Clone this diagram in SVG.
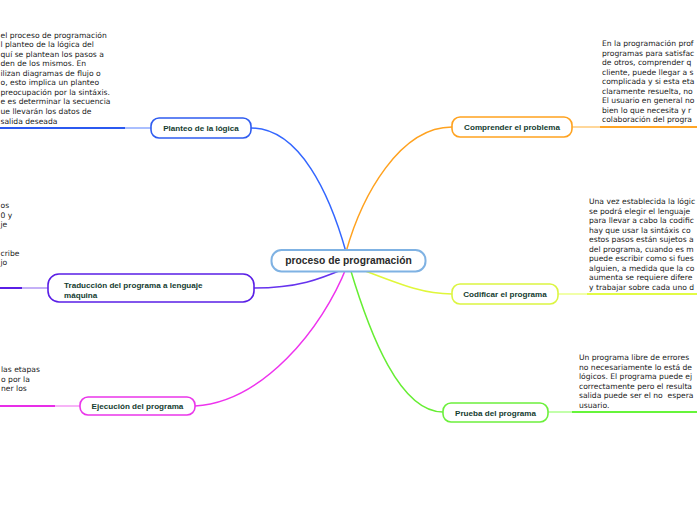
<svg xmlns="http://www.w3.org/2000/svg" width="697" height="520" viewBox="0 0 697 520">
<style>
.body{font-family:"DejaVu Sans",Verdana,sans-serif;font-size:7.6px;fill:#1a1a1a}
.lbl{font-family:"Liberation Sans",Arial,sans-serif;font-size:8.1px;font-weight:bold;fill:#143c30}
.ctr{font-family:"Liberation Sans",Arial,sans-serif;font-size:10.3px;font-weight:bold;fill:#2a2a2a}
.node{fill:#ffffff;stroke-width:1.6}
.c{fill:none;stroke-width:1.5}
.u{fill:none;stroke-width:2}
</style>
<rect width="697" height="520" fill="#ffffff"/>
<g id="connectors">
<path class="c" d="M251 128 C300 128 330 195 346 252" stroke="#3366ff"/>
<path class="c" d="M452 127 C400 127 362 195 346 252" stroke="#ffa21f"/>
<path class="c" d="M352 266 C395 282 420 294 452 294" stroke="#e0f73a"/>
<path class="c" d="M350 268 C370 335 400 412 443 412" stroke="#66ee33"/>
<path class="c" d="M254 288 C300 288 322 278 346 268" stroke="#6633ee"/>
<path class="c" d="M195 406 C262 402 322 330 347 266" stroke="#ee33ee"/>
<path class="u" d="M125 128 H151" stroke="#aabfff"/>
<path class="u" d="M0 128 H125" stroke="#2b59f0"/>
<path class="u" d="M572 127 H600" stroke="#ffd79a"/>
<path class="u" d="M600 127 H697" stroke="#ffa526"/>
<path class="u" d="M558 294 H587" stroke="#f1ffa8"/>
<path class="u" d="M587 294 H697" stroke="#e2fb45"/>
<path class="u" d="M548 412 H572" stroke="#c2ffaa"/>
<path class="u" d="M572 412 H697" stroke="#66f53a"/>
<path class="u" d="M22 288 H48" stroke="#c4b0f7"/>
<path class="u" d="M0 288 H22" stroke="#5a1fe6"/>
<path class="u" d="M55 406 H80" stroke="#f7b3f7"/>
<path class="u" d="M0 406 H55" stroke="#e82ee8"/>
</g>
<g id="center">
<rect x="271.5" y="250" width="154" height="21.5" rx="10" fill="#ffffff" stroke="#7fb2e3" stroke-width="2"/>
<text class="ctr" x="348.5" y="264.3" text-anchor="middle">proceso de programación</text>
</g>
<g id="planteo">
<rect class="node" x="151" y="118" width="100" height="20" rx="8" stroke="#2f5cf0"/>
<text class="lbl" x="201" y="131" text-anchor="middle">Planteo de la lógica</text>
</g>
<g id="comprender">
<rect class="node" x="452" y="117" width="120" height="20" rx="8" stroke="#ffa21f"/>
<text class="lbl" x="512" y="130" text-anchor="middle">Comprender el problema</text>
</g>
<g id="codificar">
<rect class="node" x="452" y="284" width="106" height="20" rx="8" stroke="#dcf542"/>
<text class="lbl" x="505" y="297" text-anchor="middle">Codificar el programa</text>
</g>
<g id="prueba">
<rect class="node" x="443" y="403" width="105" height="19" rx="8" stroke="#6cf03c"/>
<text class="lbl" x="495.5" y="415.5" text-anchor="middle">Prueba del programa</text>
</g>
<g id="traduccion">
<rect class="node" x="48" y="274" width="206" height="28" rx="11" stroke="#5a1fe6"/>
<text class="lbl" x="64" y="288">Traducción del programa a lenguaje</text>
<text class="lbl" x="64" y="297.5">máquina</text>
</g>
<g id="ejecucion">
<rect class="node" x="80" y="397" width="115" height="18" rx="8" stroke="#ea36ea"/>
<text class="lbl" x="137.5" y="409" text-anchor="middle">Ejecución del programa</text>
</g>
<g id="text-planteo">
<text class="body" x="0.5" y="37.5">el proceso de programación</text>
<text class="body" x="0.5" y="47">l planteo de la lógica del</text>
<text class="body" x="0.5" y="56.6">quí se plantean los pasos a</text>
<text class="body" x="0.5" y="66.2">den de los mismos. En</text>
<text class="body" x="0.5" y="75.7">ilizan diagramas de flujo o</text>
<text class="body" x="0.5" y="85.3">o, esto implica un planteo</text>
<text class="body" x="0.5" y="94.8">preocupación por la sintáxis.</text>
<text class="body" x="0.5" y="104.4">e es determinar la secuencia</text>
<text class="body" x="0.5" y="113.9">ue llevarán los datos de</text>
<text class="body" x="0.5" y="123.5">salida deseada</text>
</g>
<g id="text-comprender">
<text class="body" x="602" y="46">En la programación prof</text>
<text class="body" x="602" y="55.5">programas para satisfac</text>
<text class="body" x="602" y="65">de otros, comprender q</text>
<text class="body" x="602" y="74.5">cliente, puede llegar a s</text>
<text class="body" x="602" y="84">complicada y si esta eta</text>
<text class="body" x="602" y="93.5">claramente resuelta, no</text>
<text class="body" x="602" y="103">El usuario en general no</text>
<text class="body" x="602" y="112.5">bien lo que necesita y r</text>
<text class="body" x="602" y="122">colaboración del progra</text>
</g>
<g id="text-codificar">
<text class="body" x="589" y="204">Una vez establecida la lógic</text>
<text class="body" x="589" y="213.5">se podrá elegir el lenguaje</text>
<text class="body" x="589" y="223">para llevar a cabo la codific</text>
<text class="body" x="589" y="232.5">hay que usar la sintáxis co</text>
<text class="body" x="589" y="242">estos pasos están sujetos a</text>
<text class="body" x="589" y="251.5">del programa, cuando es m</text>
<text class="body" x="589" y="261">puede escribir como si fues</text>
<text class="body" x="589" y="270.5">alguien, a medida que la co</text>
<text class="body" x="589" y="280">aumenta se requiere difere</text>
<text class="body" x="589" y="289.5">y trabajar sobre cada uno d</text>
</g>
<g id="text-prueba">
<text class="body" x="579" y="360">Un programa libre de errores</text>
<text class="body" x="579" y="369.6">no necesariamente lo está de</text>
<text class="body" x="579" y="379.2">lógicos. El programa puede ej</text>
<text class="body" x="579" y="388.8">correctamente pero el resulta</text>
<text class="body" x="579" y="398.4" xml:space="preserve">salida puede ser el no  espera</text>
<text class="body" x="579" y="408">usuario.</text>
</g>
<g id="text-traduccion">
<text class="body" x="0.5" y="208">os</text>
<text class="body" x="0.5" y="217.5">0 y</text>
<text class="body" x="0.5" y="227">je</text>
<text class="body" x="0.5" y="255.5">cribe</text>
<text class="body" x="0.5" y="265">jo</text>
</g>
<g id="text-ejecucion">
<text class="body" x="1" y="372">las etapas</text>
<text class="body" x="1" y="381.6">o por la</text>
<text class="body" x="1" y="391.2">ner los</text>
</g>
</svg>
